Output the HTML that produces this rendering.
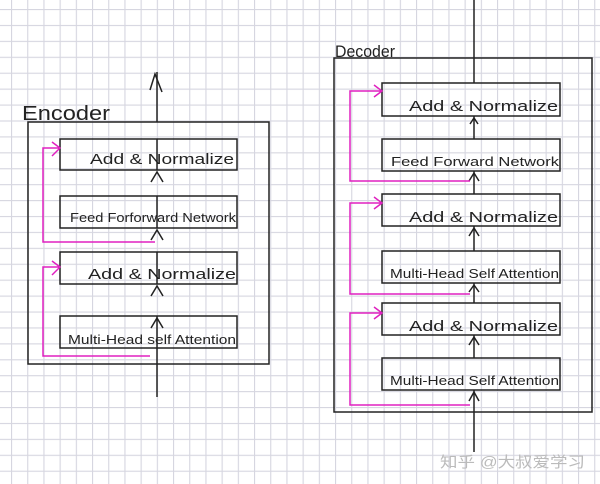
<!DOCTYPE html>
<html><head><meta charset="utf-8"><style>
html,body{margin:0;padding:0;background:#fff;}
svg{display:block;}
</style></head><body>
<svg width="600" height="484" viewBox="0 0 600 484" xmlns="http://www.w3.org/2000/svg">
<defs>
<pattern id="g" x="11" y="9" width="16.2" height="15.92" patternUnits="userSpaceOnUse">
<path d="M0.5 0V15.92M0 0.5H16.2" stroke="#d6d6e0" stroke-width="1.2" fill="none"/>
</pattern>
</defs>
<rect width="600" height="484" fill="#fff"/>
<rect x="0" y="0" width="600" height="484" fill="url(#g)"/>

<g fill="none" stroke="#222" stroke-width="1.5">
<rect x="28" y="122" width="241" height="242"/>
<rect x="60" y="139" width="177" height="31"/>
<rect x="60" y="196" width="177" height="32"/>
<rect x="60" y="252" width="177" height="32"/>
<rect x="60" y="316" width="177" height="32"/>
<path d="M157 397V316M157 284V252M157 228V196M157 170V139M157 122V72"/>
<path d="M151 328L157 318L163 328M151 296L157 286L163 296M151 240L157 230L163 240M151 182L157 172L163 182M150 90L155 74L162 92"/>
<rect x="334" y="58" width="258" height="354"/>
<rect x="382" y="83" width="178" height="33"/>
<rect x="382" y="139" width="178" height="32"/>
<rect x="382" y="194" width="178" height="32"/>
<rect x="382" y="251" width="178" height="32"/>
<rect x="382" y="303" width="178" height="32"/>
<rect x="382" y="358" width="178" height="32"/>
<path d="M474 452V390M474 358V335M474 303V283M474 251V226M474 194V171M474 139V116M474 83V0"/>
<path d="M469 401L474 392L479 401M469 345L474 337L479 345M469 292L474 285L479 292M469 236L474 228L479 236M469 181L474 173L479 181M470 124L474 118L478 124"/>
</g>
<g fill="none" stroke="#e020c0" stroke-width="1.5">
<path d="M155 242H43V148H60M52 142L60 148L52 156"/>
<path d="M150 356H43V267H60M52 261L60 267L52 275"/>
<path d="M470 181H350V91H382M374 85L382 91L374 97"/>
<path d="M470 294H350V203H382M374 197L382 203L374 209"/>
<path d="M470 405H350V313H382M374 307L382 313L374 319"/>
</g>
<g font-family="Liberation Sans, sans-serif" fill="#222" font-size="13">
<text x="22" y="120" font-size="20" textLength="88" lengthAdjust="spacingAndGlyphs">Encoder</text>
<text x="335" y="57" font-size="17" textLength="60" lengthAdjust="spacingAndGlyphs">Decoder</text>
<text x="90" y="164" font-size="15" textLength="144" lengthAdjust="spacingAndGlyphs">Add  &amp;  Normalize</text>
<text x="70" y="222" textLength="166" lengthAdjust="spacingAndGlyphs">Feed Forforward Network</text>
<text x="88" y="279" font-size="15" textLength="148" lengthAdjust="spacingAndGlyphs">Add  &amp;  Normalize</text>
<text x="68" y="344" textLength="168" lengthAdjust="spacingAndGlyphs">Multi-Head self Attention</text>
<text x="409" y="111" font-size="15" textLength="149" lengthAdjust="spacingAndGlyphs">Add  &amp;  Normalize</text>
<text x="391" y="166" textLength="168" lengthAdjust="spacingAndGlyphs">Feed Forward Network</text>
<text x="409" y="222" font-size="15" textLength="149" lengthAdjust="spacingAndGlyphs">Add  &amp;  Normalize</text>
<text x="390" y="278" textLength="169" lengthAdjust="spacingAndGlyphs">Multi-Head Self Attention</text>
<text x="409" y="331" font-size="15" textLength="149" lengthAdjust="spacingAndGlyphs">Add  &amp;  Normalize</text>
<text x="390" y="385" textLength="169" lengthAdjust="spacingAndGlyphs">Multi-Head Self Attention</text>
</g>
<text x="440" y="467" font-family="Liberation Sans, Noto Sans CJK SC, sans-serif" font-size="15" fill="#bbb" textLength="145" lengthAdjust="spacingAndGlyphs">知乎 @大叔爱学习</text>
</svg>
</body></html>
